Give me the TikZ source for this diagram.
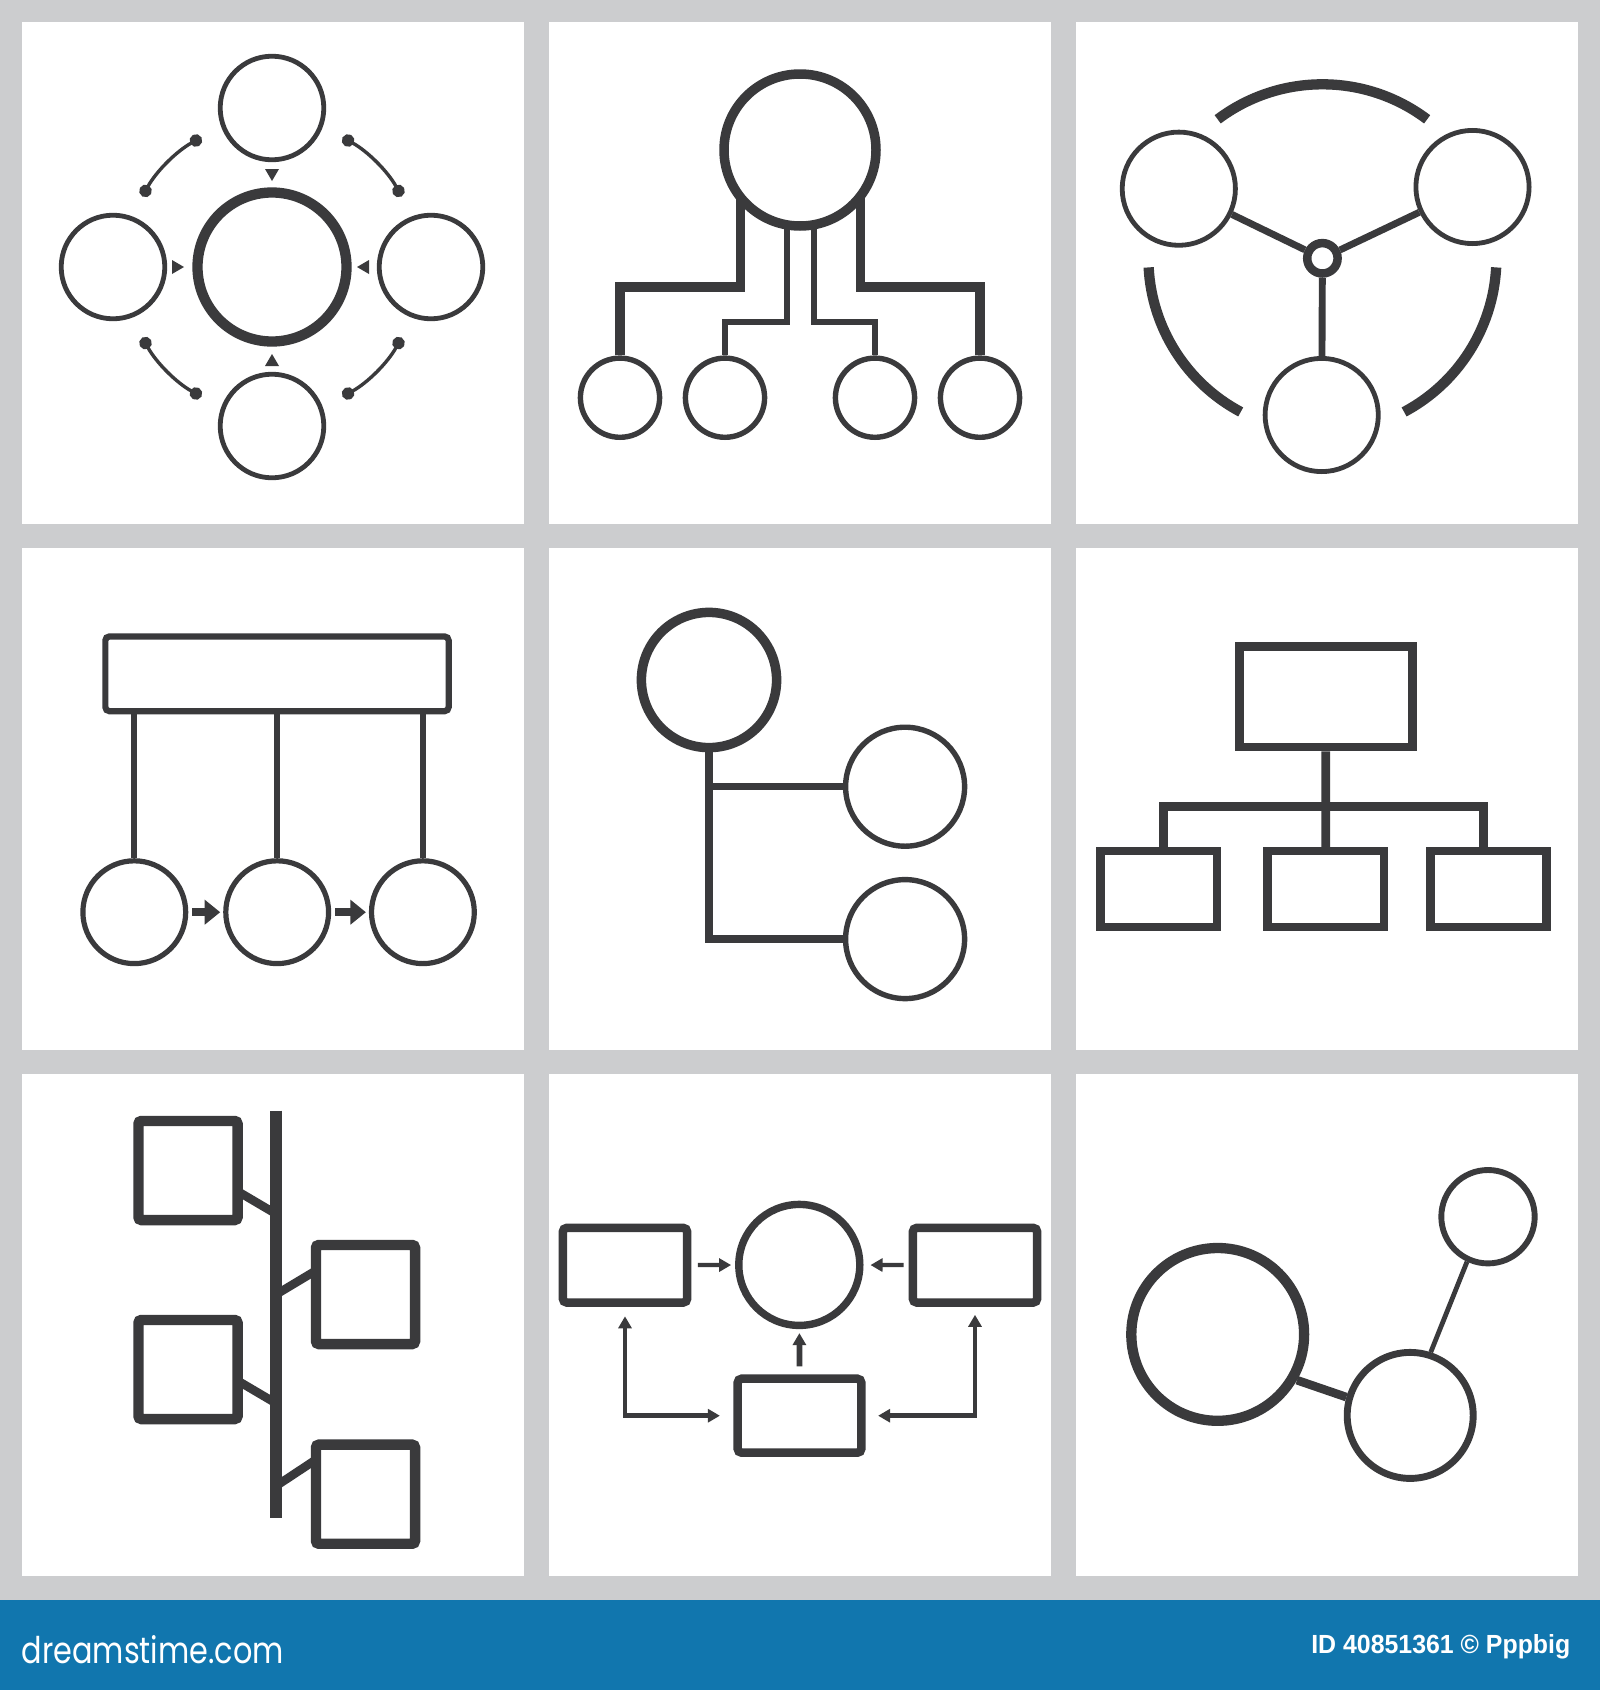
\documentclass[tikz,border=0pt]{standalone}
\usepackage{fontspec}
\usetikzlibrary{arrows.meta}
\newfontfamily\logofont{Poppins}
\newfontfamily\idfont{Liberation Sans}
\definecolor{ink}{RGB}{58,58,60}
\definecolor{tile}{RGB}{204,205,207}
\definecolor{brand}{RGB}{17,118,174}
\pgfdeclarelayer{back}
\pgfdeclarelayer{wires}
\pgfsetlayers{back,wires,main}
\tikzset{
  bubble/.style 2 args={circle, draw=ink, fill=white, inner sep=0pt, minimum size=#1, line width=#2},
  card/.style n args={3}{rectangle, draw=ink, fill=white, inner sep=0pt, minimum width=#1, minimum height=#2, line width=#3},
  link/.style={draw=ink, line width=#1},
  flow/.style={link=#1, ->},
  >={Triangle[length=1.2mm,width=1.3mm]},
}
\begin{document}
\begin{tikzpicture}[x=0.1mm, y=-0.1mm]
\useasboundingbox (0,0) rectangle (1600,1690);
% tiles and footer band
\begin{pgfonlayer}{back}
  \fill[tile] (0,0) rectangle (1600,1600);
  \foreach \cx in {22,549,1076}
    \foreach \cy in {22,548,1074}
      \fill[white] (\cx,\cy) rectangle ++(502,502);
  \fill[brand] (0,1600) rectangle (1600,1690);
\end{pgfonlayer}

% hub with four satellites
\begin{scope}[shift={(22,22)}]
  \node[bubble={14.9mm}{1.03mm}] (hub) at (250,245) {};
  \node[bubble={10.36mm}{0.48mm}] (north) at (250,86) {};
  \node[bubble={10.36mm}{0.48mm}] (west) at (91,245) {};
  \node[bubble={10.36mm}{0.48mm}] (east) at (409,245) {};
  \node[bubble={10.36mm}{0.48mm}] (south) at (250,404) {};
  \fill[ink] (243,147) -- (257,147) -- (250,159) -- cycle;
  \fill[ink] (243,344) -- (257,344) -- (250,332) -- cycle;
  \fill[ink] (150,238) -- (150,252) -- (162,245) -- cycle;
  \fill[ink] (347,238) -- (347,252) -- (335,245) -- cycle;
  \foreach \m in {45,135,225,315}
    \draw[link=0.34mm, {Circle[length=1.25mm]}-{Circle[length=1.25mm]}]
      (hub) ++(\m-16.4:147.5) arc[start angle=\m-16.4, end angle=\m+16.4, radius=147.5];
\end{scope}

% circle tree
\begin{scope}[shift={(549,22)}]
  \node[bubble={15.2mm}{0.95mm}] (top) at (251,128) {};
  \foreach \x [count=\i] in {71,176,326,431}
    \node[bubble={7.92mm}{0.54mm}] (leaf\i) at (\x,375.7) {};
  \coordinate (kl) at (191.5,264.8);
  \coordinate (kr) at (311.5,264.8);
  \coordinate (ml) at (237.8,300);
  \coordinate (mr) at (264.8,300);
  \begin{pgfonlayer}{wires}
    \draw[link=0.95mm] (leaf1) |- (kl) -- (kl |- top);
    \draw[link=0.95mm] (leaf4) |- (kr) -- (kr |- top);
    \draw[link=0.54mm] (leaf2) |- (ml) -- (ml |- top);
    \draw[link=0.54mm] (leaf3) |- (mr) -- (mr |- top);
  \end{pgfonlayer}
\end{scope}

% three spokes
\begin{scope}[shift={(1076,22)}]
  \node[bubble={3.04mm}{0.85mm}] (core) at (246.4,236.3) {};
  \node[bubble={11.32mm}{0.48mm}] (pl) at (102.8,166.7) {};
  \node[bubble={11.32mm}{0.48mm}] (pr) at (396.5,165) {};
  \node[bubble={11.32mm}{0.48mm}] (pb) at (245.7,393) {};
  \begin{pgfonlayer}{wires}
    \foreach \t in {pl,pr,pb}
      \draw[link=0.69mm] (core) -- (\t);
  \end{pgfonlayer}
  \draw[link=1.03mm] (core) ++(-53:174) arc[start angle=-53, end angle=-127, radius=174];
  \draw[link=1.03mm] (core) ++(-183:174) arc[start angle=-183, end angle=-242, radius=174];
  \draw[link=1.03mm] (core) ++(-298:174) arc[start angle=-298, end angle=-357, radius=174];
\end{scope}

% bar with hanging steps
\begin{scope}[shift={(22,548)}]
  \node[card={34.33mm}{7.47mm}{0.62mm}, rounded corners=0.4mm] (head) at (255,125.8) {};
  \foreach \x [count=\i] in {112.3,255.2,400.9}
    \node[bubble={10.28mm}{0.52mm}] (ball\i) at (\x,364.2) {};
  \begin{pgfonlayer}{wires}
    \foreach \i in {1,2,3}
      \draw[link=0.62mm] (ball\i |- head) -- (ball\i);
  \end{pgfonlayer}
  \draw[link=0.76mm, -{Triangle[length=1.55mm,width=2.4mm]}, shorten <=0.4mm, shorten >=0.3mm] (ball1) -- (ball2);
  \draw[link=0.76mm, -{Triangle[length=1.55mm,width=2.4mm]}, shorten <=0.4mm, shorten >=0.3mm] (ball2) -- (ball3);
\end{scope}

% root with two children
\begin{scope}[shift={(549,548)}]
  \node[bubble={13.52mm}{0.95mm}] (root) at (160,132) {};
  \node[bubble={11.9mm}{0.54mm}] (kid1) at (356.1,238.7) {};
  \node[bubble={11.9mm}{0.54mm}] (kid2) at (356.1,391.1) {};
  \begin{pgfonlayer}{wires}
    \draw[link=0.74mm] (root) |- (kid2);
    \draw[link=0.74mm] (root |- kid1) -- (kid1);
  \end{pgfonlayer}
\end{scope}

% org chart
\begin{scope}[shift={(1076,548)}]
  \node[card={17.32mm}{10.09mm}{0.86mm}] (boss) at (249.8,148.7) {};
  \foreach \x [count=\i] in {82.7,249.7,412.5}
    \node[card={11.64mm}{7.58mm}{0.86mm}] (unit\i) at (\x,341) {};
  \coordinate (bl) at (87.3,258.5);
  \coordinate (br) at (407.5,258.5);
  \begin{pgfonlayer}{wires}
    \draw[link=0.86mm] (bl |- unit1) -- (bl) -- (br) -- (br |- unit3);
    \draw[link=0.86mm] (boss) -- (unit2);
  \end{pgfonlayer}
\end{scope}

% timeline
\begin{scope}[shift={(22,1074)}]
  \foreach \n/\x/\y in {a/166/96.5, b/343.5/220.5, c/166/295.5, d/343.5/420.2}
    \node[card={9.92mm}{9.92mm}{1.03mm}, rounded corners=0.3mm] (\n) at (\x,\y) {};
  \coordinate (spinetop) at (254,36.6);
  \coordinate (spinebot) at (254,444);
  \begin{pgfonlayer}{wires}
    \draw[link=1.27mm] (spinetop) -- (spinebot);
    \draw[link=0.86mm] (a) ++(50,21) -- ++(38,22.4);
    \draw[link=0.86mm] (b) ++(-89.5,0) -- ++(39.5,-23.7);
    \draw[link=0.86mm] (c) ++(50,11.4) -- ++(38,22.4);
    \draw[link=0.86mm] (d) ++(-89.5,-8.2) -- ++(39.5,-26.1);
  \end{pgfonlayer}
\end{scope}

% flow into a circle
\begin{scope}[shift={(549,1074)}]
  \node[bubble={12.1mm}{0.74mm}] (goal) at (250.3,190.9) {};
  \node[card={12.44mm}{7.47mm}{0.85mm}, rounded corners=0.4mm] (src1) at (76,191.2) {};
  \node[card={12.44mm}{7.47mm}{0.85mm}, rounded corners=0.4mm] (src2) at (426,191.2) {};
  \node[card={12.37mm}{7.4mm}{0.85mm}, rounded corners=0.4mm] (base) at (250.5,341.7) {};
  \draw[flow=0.42mm, shorten <=0.65mm, shorten >=0.4mm] (src1) -- (goal);
  \draw[flow=0.42mm, shorten <=0.5mm, shorten >=0.7mm] (src2) -- (goal);
  \draw[flow=0.57mm, shorten <=0.8mm, shorten >=0.4mm] (base) -- (goal);
  \draw[link=0.47mm, <->, shorten <=1.35mm, shorten >=0.95mm] (base) -| (src1);
  \draw[link=0.47mm, <->, shorten <=1.25mm, shorten >=0.8mm] (base) -| (src2);
\end{scope}

% molecule
\begin{scope}[shift={(1076,1074)}]
  \node[bubble={17.28mm}{1.03mm}] (big) at (141.7,260.4) {};
  \node[bubble={12.6mm}{0.69mm}] (mid) at (334.2,341.4) {};
  \node[bubble={9.34mm}{0.59mm}] (small) at (412,142.7) {};
  \begin{pgfonlayer}{wires}
    \draw[link=0.86mm] (big.-30) -- (mid.164);
    \draw[link=0.48mm] (mid.72) -- (small.-115);
  \end{pgfonlayer}
\end{scope}

% footer
\node[anchor=base west, text=white, inner sep=0pt] (logo) at (21,1663)
  {\resizebox{26.2mm}{2.8mm}{\logofont dreamstime.com}};
\node[anchor=base east, text=white, inner sep=0pt] (credit) at (1571,1653)
  {\resizebox{25.9mm}{1.9mm}{\idfont\bfseries ID 40851361 © Pppbig}};
\end{tikzpicture}
\end{document}
